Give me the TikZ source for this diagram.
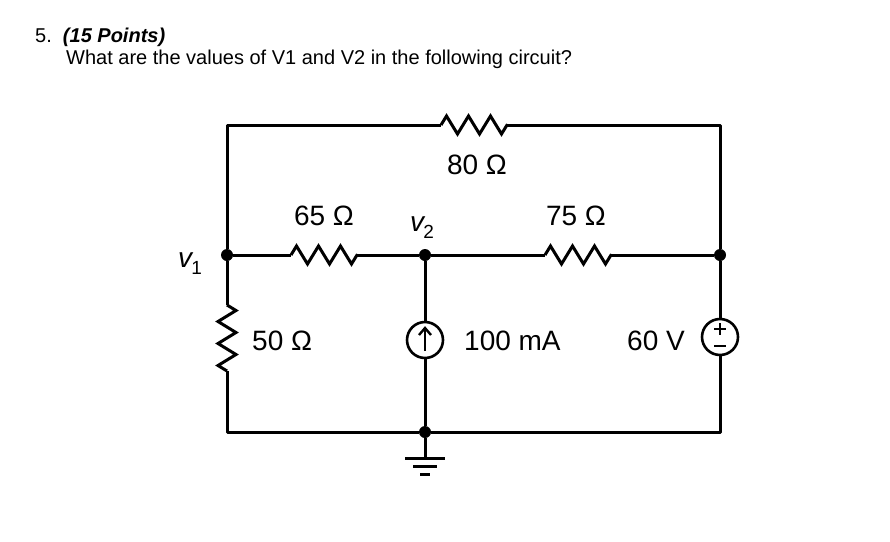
\documentclass[tikz,border=0pt]{standalone}
\usepackage{fontspec}
\setmainfont{Liberation Sans}
\usetikzlibrary{decorations.pathmorphing}
\begin{document}
\begin{tikzpicture}[x=1pt,y=-1pt,
  wire/.style={line width=3pt},
  zz/.style={decoration={zigzag,segment length=22pt,amplitude=9pt}},
  dot/.style={circle,fill,inner sep=0pt,minimum size=12pt},
  src/.style={circle,draw,line width=2.6pt,minimum size=36pt,inner sep=0pt},
  lbl/.style={font=\fontsize{28}{30}\selectfont,inner sep=0pt}]
\useasboundingbox (0,0) rectangle (890,541);
\node[anchor=west,inner sep=0pt,font=\fontsize{20}{22}\selectfont] (t1) at (35,37) {5.\ \ \textbf{\textit{(15 Points)}}};
\node[anchor=west,inner sep=0pt,font=\fontsize{20}{22}\selectfont] (t2) at (66,59) {What are the values of V1 and V2 in the following circuit?};
% nodes
\coordinate (tl) at (227,125); \coordinate (tr) at (720,125);
\node[dot] (n1) at (227,255) {};
\node[dot] (n2) at (425,255) {};
\node[dot] (n3) at (720,255) {};
\node[dot] (ng) at (425,432) {};
\coordinate (bl) at (227,432); \coordinate (br) at (720,432);
\coordinate (r80a) at (441,125); \coordinate (r80b) at (507,125);
\coordinate (r65a) at (291,255); \coordinate (r65b) at (357,255);
\coordinate (r75a) at (545,255); \coordinate (r75b) at (611,255);
\coordinate (r50a) at (227,305); \coordinate (r50b) at (227,371);
\node[src] (is) at (425,340) {};
\node[src] (vs) at (720,337) {};
\coordinate (g) at (425,458);
% wires
\draw[wire,line join=round] (n1) -- (tl) -- (r80a);
\draw[wire,zz] (r80a) decorate{-- (r80b)};
\draw[wire,line join=round] (r80b) -- (tr) -- (n3);
\draw[wire] (n1) -- (r65a); \draw[wire,zz] (r65a) decorate{-- (r65b)}; \draw[wire] (r65b) -- (n2);
\draw[wire] (n2) -- (r75a); \draw[wire,zz] (r75a) decorate{-- (r75b)}; \draw[wire] (r75b) -- (n3);
\draw[wire] (n1) -- (r50a); \draw[wire,zz] (r50a) decorate{-- (r50b)};
\draw[wire,line join=round] (r50b) -- (bl) -- (ng) -- (br) -- (vs.south);
\draw[wire] (n3) -- (vs.north);
\draw[wire] (n2) -- (is.north); \draw[wire] (is.south) -- (ng);
\draw[wire] (ng) -- (g);
\draw[wire] (405,458) -- (445,458);
\draw[wire] (413,466) -- (437,466);
\draw[wire] (420,474) -- (430,474);
% source symbols
\draw[line width=2.4pt] ([yshift=-11pt]is.center) -- ([yshift=12pt]is.center);
\draw[line width=2.4pt,line join=miter] ([xshift=-6pt,yshift=5pt]is.center) -- ([yshift=12pt]is.center) -- ([xshift=6pt,yshift=5pt]is.center);
\draw[line width=2pt] ([xshift=-6pt,yshift=8pt]vs.center) -- ([xshift=6pt,yshift=8pt]vs.center);
\draw[line width=2pt] ([yshift=14pt]vs.center) -- ([yshift=2pt]vs.center);
\draw[line width=2pt] ([xshift=-6pt,yshift=-9pt]vs.center) -- ([xshift=6pt,yshift=-9pt]vs.center);
% labels
\node[lbl] (l80) at (477,165) {80 Ω};
\node[lbl] (l65) at (324,216) {65 Ω};
\node[lbl] (l75) at (576,216) {75 Ω};
\node[lbl,anchor=west] (l50) at (252,341) {50 Ω};
\node[lbl,anchor=west] (l100) at (464,341) {100 mA};
\node[lbl,anchor=east] (l60) at (685,341) {60 V};
\node[lbl] (v1) at (190,264) {\textit{v}\kern-2pt\raisebox{-7pt}{\fontsize{19}{21}\selectfont 1}};
\node[lbl] (v2) at (422,228) {\textit{v}\kern-2pt\raisebox{-7pt}{\fontsize{19}{21}\selectfont 2}};
\end{tikzpicture}
\end{document}
